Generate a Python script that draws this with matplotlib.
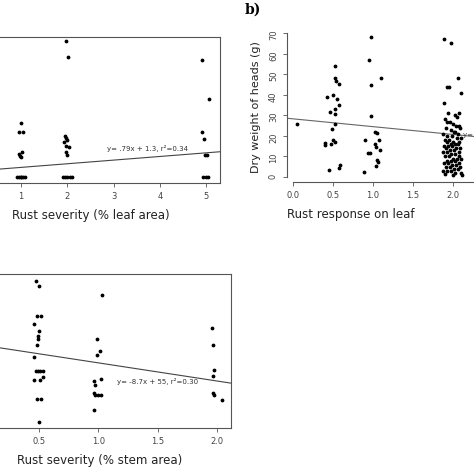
import matplotlib
matplotlib.use("Agg")
import matplotlib.pyplot as plt
import numpy as np

# Panel a: rust severity (% leaf area)
a_x = [0.0,0.05,-0.05,0.0,0.1,
       1.0,0.95,1.05,0.95,1.0,1.02,0.98,1.0,0.92,0.96,1.0,1.04,1.08,
       1.98,2.02,1.95,1.97,2.0,1.93,1.96,2.03,1.98,2.0,1.9,1.95,2.0,2.05,2.1,
       4.92,5.07,4.9,4.95,4.98,5.02,4.93,5.0,5.05]
a_y = [9,3.5,0,0,0,
       11.7,9.8,9.8,5,4.3,5.5,4.6,0,0,0,0,0,0,
       29.6,26,9,8.5,8,7.7,6.7,6.5,5.5,4.8,0,0,0,0,0,
       25.4,17,9.8,8.3,4.8,4.8,0,0,0]
a_slope, a_int = 0.79, 1.3

# Panel b: rust response on leaf
b_x = [0.05,
       0.53,0.52,0.54,0.57,0.43,0.50,0.55,0.57,0.53,0.46,0.52,0.53,0.49,0.50,0.52,0.40,0.48,0.40,0.59,0.57,0.45,
       0.98,0.95,1.10,0.97,0.98,1.03,1.05,0.90,1.08,1.02,1.04,1.09,0.94,0.96,1.05,1.06,1.04,0.89,
       1.89,1.98,1.95,1.93,2.06,2.10,1.89,2.08,1.94,2.02,2.05,1.90,1.92,1.96,2.00,2.04,2.07,2.09,1.91,1.97,
       2.01,2.03,2.06,1.88,1.93,1.99,2.05,2.10,1.90,1.95,2.00,2.08,1.92,1.97,2.02,2.06,1.89,1.94,1.99,2.04,
       2.09,1.91,1.96,2.01,2.07,1.88,1.93,1.98,2.03,2.08,1.90,1.95,2.00,2.05,2.10,1.92,1.97,2.02,2.07,1.89,
       1.94,1.99,2.04,2.09,1.91,1.96,2.01,2.06,1.88,1.93,1.98,2.03,2.10,2.11,1.90,2.00]
b_y = [26,
       54,48,46.5,45,39,40,38,35,33,31.5,30.5,26,23.5,18,17,16.5,16,15.5,6,4.5,3.5,
       68,57,48,44.5,29.5,22,21.5,18,18,16,14.5,13,11.5,11.5,8.5,7.5,5.5,2.5,
       67,65,44,44,48,41,36,31,31,30,29,28,27,27,26,25,25,24,24,23,
       22,22,21,21,20,20,19,19,18,18,17,17,17,16,16,16,15,15,15,14,
       14,14,13,13,12,12,12,11,11,10,10,10,9,9,9,8,8,8,7,7,
       7,6,6,5,5,5,4,4,3,3,3,2,2,1,1.5,1]
b_slope, b_int = -3.8, 28.3

# Panel c: rust severity (% stem area)
c_x = [0.47,0.50,0.48,0.52,0.46,0.50,0.49,0.49,0.48,0.46,0.47,0.49,0.51,0.53,0.46,0.51,0.53,0.48,0.52,0.50,
       1.03,0.99,1.01,0.99,1.02,0.96,0.97,0.96,0.97,1.00,1.02,0.96,
       1.96,1.97,1.98,1.97,1.97,1.98,2.04]
c_y = [85.5,83,68.7,68.7,65,61.7,59,58,55,49,42.3,42.3,42.3,42.3,38,38,39.5,29,29,17.8,
       79,58,52,50,38.5,37.5,35.6,31.7,30.8,31,31,23.6,
       63,55,43,40,31.7,31,28.4]
c_slope, c_int = -8.7, 55

fig = plt.figure(figsize=(4.74, 4.74), dpi=100)
W = 474.0

def style(ax):
    for s in ax.spines.values():
        s.set_color("#555555")
        s.set_linewidth(0.8)
    ax.tick_params(colors="#555555", labelsize=6, length=3, width=0.6, labelcolor="#444444")

# a
axa = fig.add_axes([-39/W, 1-183/W, 259/W, 146/W])
axa.scatter(a_x, a_y, s=3, c="black", zorder=3)
xs = np.array([-0.3, 5.3])
axa.plot(xs, a_slope*xs + a_int, color="#444444", lw=0.8)
axa.set_xlim(-0.3, 5.3); axa.set_ylim(-1.3, 30.4)
axa.set_xticks([0, 1, 2, 3, 4, 5]); axa.set_yticks([])
axa.text(2.85, 5.6, "y= .79x + 1.3, r²=0.34", fontsize=5, color="#333333")
axa.set_xlabel("Rust severity (% leaf area)", fontsize=8.5, color="#222222", labelpad=6)
style(axa)

# b
axb = fig.add_axes([287/W, 1-182/W, 214/W, 150/W])
axb.scatter(b_x, b_y, s=3, c="black", zorder=3)
xs = np.array([-0.075, 2.6])
axb.plot(xs, b_slope*xs + b_int, color="#666666", lw=0.8)
axb.set_xlim(-0.075, 2.6); axb.set_ylim(-2.4, 70.5)
axb.set_xticks([0.0, 0.5, 1.0, 1.5, 2.0, 2.5])
axb.set_xticklabels(["0.0", "0.5", "1.0", "1.5", "2.0", "2.5"])
axb.set_yticks(range(0, 71, 10))
axb.tick_params(axis="y", labelrotation=90)
axb.text(2.12, 19.5, "y= -3.8x + 28, r²=0.10", fontsize=5, color="#333333")
axb.set_xlabel("Rust response on leaf", fontsize=8.5, color="#222222", labelpad=6, loc="left")
axb.set_ylabel("Dry weight of heads (g)", fontsize=8, color="#222222", labelpad=6)
axb.spines["top"].set_visible(False); axb.spines["right"].set_visible(False)
style(axb)
axb.spines["left"].set_bounds(0, 70)
axb.spines["bottom"].set_bounds(0, 2.5)
fig.text(245/W, 1-14/W, "b)", fontsize=10, fontweight="bold", family="DejaVu Serif")

# c
axc = fig.add_axes([-32/W, 1-428/W, 263/W, 154/W])
axc.scatter(c_x, c_y, s=3, c="black", zorder=3)
xs = np.array([-0.1, 2.12])
axc.plot(xs, c_slope*xs + c_int, color="#444444", lw=0.8)
axc.set_xlim(-0.1, 2.12); axc.set_ylim(15, 89)
axc.set_xticks([0.0, 0.5, 1.0, 1.5, 2.0]); axc.set_yticks([])
axc.text(1.16, 36, "y= -8.7x + 55, r²=0.30", fontsize=5, color="#333333")
axc.set_xlabel("Rust severity (% stem area)", fontsize=8.5, color="#222222", labelpad=6)
style(axc)

fig.savefig("out.png", dpi=100)
